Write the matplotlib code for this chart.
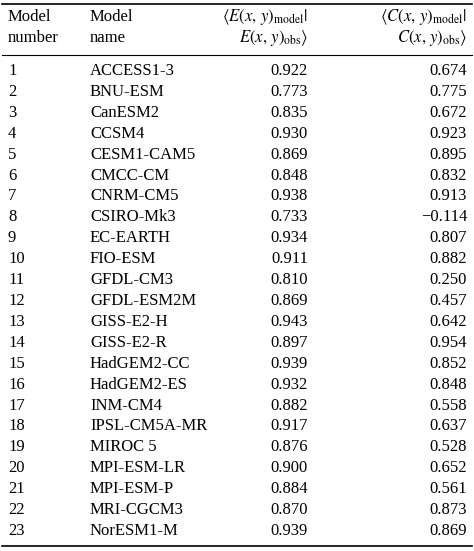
import matplotlib
matplotlib.use('Agg')
import matplotlib.pyplot as plt

plt.rcParams['font.family'] = ['Liberation Serif', 'DejaVu Serif']
plt.rcParams['mathtext.fontset'] = 'stix'

numbers = list(range(1, 24))
names = ['ACCESS1-3', 'BNU-ESM', 'CanESM2', 'CCSM4', 'CESM1-CAM5', 'CMCC-CM',
         'CNRM-CM5', 'CSIRO-Mk3', 'EC-EARTH', 'FIO-ESM', 'GFDL-CM3', 'GFDL-ESM2M',
         'GISS-E2-H', 'GISS-E2-R', 'HadGEM2-CC', 'HadGEM2-ES', 'INM-CM4',
         'IPSL-CM5A-MR', 'MIROC 5', 'MPI-ESM-LR', 'MPI-ESM-P', 'MRI-CGCM3', 'NorESM1-M']
e_corr = [0.922, 0.773, 0.835, 0.930, 0.869, 0.848, 0.938, 0.733, 0.934, 0.911, 0.810,
          0.869, 0.943, 0.897, 0.939, 0.932, 0.882, 0.917, 0.876, 0.900, 0.884, 0.870, 0.939]
c_corr = [0.674, 0.775, 0.672, 0.923, 0.895, 0.832, 0.913, -0.114, 0.807, 0.882, 0.250,
          0.457, 0.642, 0.954, 0.852, 0.848, 0.558, 0.637, 0.528, 0.652, 0.561, 0.873, 0.869]

W, H = 474, 551
fig = plt.figure(figsize=(W / 100, H / 100), dpi=100)


def txt(x, y, s, ha='left'):
    fig.text(x / W, 1 - y / H, s, ha=ha, va='center', fontsize=12)


def rule(y, lw=1.0):
    fig.add_artist(plt.Line2D([2 / W, 472 / W], [1 - y / H] * 2, color='black', lw=lw))


rule(4, 1.2)
rule(55, 0.8)
rule(546, 1.2)

txt(8, 17, 'Model')
txt(8, 38, 'number')
txt(90, 17, 'Model')
txt(90, 38, 'name')
txt(308, 17, r'$\langle E(x,\,y)_{\mathrm{model}}|$', ha='right')
txt(308, 38, r'$E(x,\,y)_{\mathrm{obs}}\rangle$', ha='right')
txt(467, 17, r'$\langle C(x,\,y)_{\mathrm{model}}|$', ha='right')
txt(467, 38, r'$C(x,\,y)_{\mathrm{obs}}\rangle$', ha='right')

y0, dy = 71, (531 - 71) / 22
for i, (n, name, e, c) in enumerate(zip(numbers, names, e_corr, c_corr)):
    y = y0 + i * dy
    txt(8, y, str(n))
    txt(90, y, name)
    txt(308, y, f'{e:.3f}', ha='right')
    txt(467, y, f'{c:.3f}'.replace('-', '\u2212'), ha='right')

fig.savefig('out.png', dpi=100)
